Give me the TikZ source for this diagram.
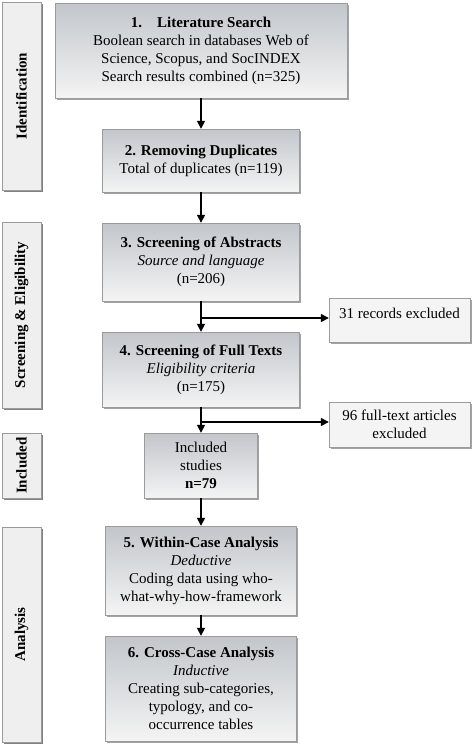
\documentclass[tikz,border=0pt]{standalone}
\usepackage{fontspec}
\setmainfont{Liberation Serif}
\definecolor{boxtop}{RGB}{194,198,203}
\definecolor{boxbot}{RGB}{244,244,244}
\definecolor{edgegray}{RGB}{155,155,155}
\definecolor{phasefill}{RGB}{239,239,239}
\usetikzlibrary{arrows.meta, shadows, calc}

\begin{document}
\begin{tikzpicture}[
    x=1pt, y=-1pt,
    stepbox/.style={draw=edgegray, top color=boxtop, bottom color=boxbot, align=center, inner sep=2pt,
        drop shadow={shadow xshift=1.5pt, shadow yshift=-1.5pt, fill=black!60, opacity=0.6},
        font=\fontsize{15}{18}\selectfont},
    outbox/.style={draw=edgegray, fill=boxbot, align=center, inner sep=4pt, minimum width=141pt,
        drop shadow={shadow xshift=1.5pt, shadow yshift=-1.5pt, fill=black!60, opacity=0.6},
        font=\fontsize{15}{18}\selectfont},
    phasebox/.style={draw=edgegray, fill=phasefill, minimum width=39pt, inner sep=0pt,
        drop shadow={shadow xshift=2pt, shadow yshift=-2pt, fill=black!70, opacity=0.7},
        font=\fontsize{15}{18}\selectfont\bfseries},
    flow/.style={line width=1.5pt, -{Triangle[length=8pt, width=8pt]}}
]
    \useasboundingbox (0,0) rectangle (474,748);

    % phases on the left
    \node[phasebox, minimum height=188pt] (pid) at (21.5, 96) {\rotatebox{90}{Identification}};
    \node[phasebox, minimum height=186pt] (pscr) at (21.5, 315) {\rotatebox{90}{Screening \& Eligibility}};
    \node[phasebox, minimum height=65pt] (pinc) at (21.5, 465.5) {\rotatebox{90}{Included}};
    \node[phasebox, minimum height=215pt] (pana) at (21.5, 634.5) {\rotatebox{90}{Analysis}};

    % main steps
    \node[stepbox, minimum width=292pt, minimum height=95pt] (lit) at (201, 50.5)
        {\textbf{1.\quad Literature Search}\\Boolean search in databases Web of\\Science, Scopus, and SocINDEX\\Search results combined (n=325)};
    \node[stepbox, minimum width=197pt, minimum height=63pt] (dup) at (201, 160.5)
        {\textbf{2. Removing Duplicates}\\Total of duplicates (n=119)};
    \node[stepbox, minimum width=197pt, minimum height=78pt] (abs) at (201, 262)
        {\textbf{3. Screening of Abstracts}\\\textit{Source and language}\\(n=206)};
    \node[stepbox, minimum width=197pt, minimum height=75pt] (full) at (201, 369.5)
        {\textbf{4. Screening of Full Texts}\\\textit{Eligibility criteria}\\(n=175)};
    \node[stepbox, minimum width=113pt, minimum height=65pt] (incl) at (201, 465.5)
        {Included\\studies\\\textbf{n=79}};
    \node[stepbox, minimum width=191pt, minimum height=89pt] (within) at (201, 570.5)
        {\textbf{5. Within-Case Analysis}\\\textit{Deductive}\\Coding data using who-\\what-why-how-framework};
    \node[stepbox, minimum width=191pt, minimum height=105pt] (cross) at (201, 688.5)
        {\textbf{6. Cross-Case Analysis}\\\textit{Inductive}\\Creating sub-categories,\\typology, and co-\\occurrence tables};

    % exclusions
    \node[outbox, text height=16pt, text depth=20pt] (ex1) at (399.5, 320) {31 records excluded};
    \node[outbox, minimum height=45pt] (ex2) at (399.5, 424.5) {96 full-text articles\\excluded};

    \draw[flow] (lit) -- (dup);
    \draw[flow] (dup) -- (abs);
    \draw[flow] (abs) -- (full);
    \draw[flow] (full) -- (incl);
    \draw[flow] (incl) -- (within);
    \draw[flow] (within) -- (cross);

    \coordinate (fork1) at (201, 318);
    \coordinate (fork2) at (201, 422);
    \draw[flow] (fork1) -- (fork1 -| ex1.west);
    \draw[flow] (fork2) -- (fork2 -| ex2.west);
\end{tikzpicture}
\end{document}
